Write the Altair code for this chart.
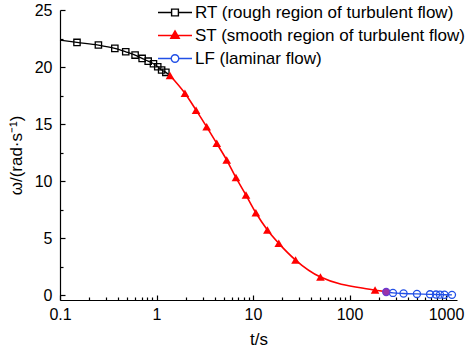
import altair as alt
import pandas as pd

# ---------------- data ----------------
names = ["RT (rough region of turbulent flow)",
         "ST (smooth region of turbulent flow)",
         "LF (laminar flow)"]

rt_start_t, rt_start_w = 0.1, 22.36
rt_t = [0.15, 0.25, 0.37, 0.48, 0.6, 0.71, 0.82, 0.93, 1.03, 1.13, 1.25]
rt_w = [22.16, 21.93, 21.64, 21.34, 21.05, 20.76, 20.52, 20.29, 20.03, 19.74, 19.54]

st_t = [1.38, 1.97, 2.57, 3.31, 4.21, 5.34, 6.66, 8.46, 10.7, 14.1, 18.5, 27.6, 50.0, 184]
st_w = [19.26, 17.70, 16.23, 14.77, 13.32, 11.86, 10.32, 8.79, 7.24, 5.73, 4.56, 3.10, 1.61, 0.47]

lf_t = [240, 282, 363, 500, 683, 788, 866, 964, 1153]
lf_w = [0.30, 0.22, 0.17, 0.13, 0.10, 0.08, 0.07, 0.06, 0.05]

x_major = [0.1, 1, 10, 100, 1000]
x_minor = [0.2, 0.3, 0.4, 0.5, 0.6, 0.7, 0.8, 0.9,
           2, 3, 4, 5, 6, 7, 8, 9,
           20, 30, 40, 50, 60, 70, 80, 90,
           200, 300, 400, 500, 600, 700, 800, 900]
y_major = [0, 5, 10, 15, 20, 25]
y_minor = [2.5, 7.5, 12.5, 17.5, 22.5]

# ---------------- tables ----------------
rt_line_df = pd.DataFrame({"t": [rt_start_t] + rt_t + [st_t[0]],
                           "w": [rt_start_w] + rt_w + [st_w[0]]})
st_line_df = pd.DataFrame({"t": st_t + [lf_t[0]], "w": st_w + [lf_w[0]]})
lf_line_df = pd.DataFrame({"t": lf_t, "w": lf_w})
rt_df = pd.DataFrame({"t": rt_t, "w": rt_w})
st_df = pd.DataFrame({"t": st_t, "w": st_w})
lf_df = pd.DataFrame({"t": lf_t[1:], "w": lf_w[1:]})
join_df = pd.DataFrame({"t": lf_t[:1], "w": lf_w[:1]})
legend_df = pd.DataFrame({"series": names})

FONT = "Liberation Sans"
W, H = 397, 290
BLACK, RED, BLUE, PURPLE = "#000000", "#ff0000", "#2250e6", "#9a32a8"

xs = alt.Scale(type="log", domain=[0.1, 1300], nice=False)
ys = alt.Scale(domain=[-0.4, 25], nice=False, zero=False)

common = dict(grid=False, labelFont=FONT, labelFontSize=16, labelColor="black",
              labelFlush=False,
              titleFont=FONT, titleFontSize=17, titleFontWeight="normal",
              titleColor="black", tickColor="black", tickWidth=1.2,
              domainColor="black", domainWidth=1.2)

x_main = alt.Axis(orient="bottom", values=x_major, format="~g", tickSize=0,
                  labelPadding=6, title="t/s", titlePadding=9, **common)
x_maj = alt.Axis(orient="top", offset=-H, values=x_major, tickSize=5, labels=False,
                 domain=False, title=None, **common)
x_min = alt.Axis(orient="top", offset=-H, values=x_minor, tickSize=3, labels=False,
                 domain=False, title=None, **common)

y_main = alt.Axis(orient="left", values=y_major, tickSize=0, labelPadding=8,
                  title="ω/(rad·s⁻¹)", titlePadding=9, **common)
y_maj = alt.Axis(orient="right", offset=-W, values=y_major, tickSize=5, labels=False,
                 domain=False, title=None, **common)
y_min = alt.Axis(orient="right", offset=-W, values=y_minor, tickSize=3, labels=False,
                 domain=False, title=None, **common)


def enc(ch, xa=None, ya=None):
    return ch.encode(x=alt.X("t:Q", scale=xs, axis=xa),
                     y=alt.Y("w:Q", scale=ys, axis=ya))


rt_line = enc(alt.Chart(rt_line_df).mark_line(color=BLACK, strokeWidth=1.3,
                                               interpolate="monotone"), x_main, y_main)
st_line = enc(alt.Chart(st_line_df).mark_line(color=RED, strokeWidth=1.6,
                                               interpolate="monotone"), x_maj, y_maj)
lf_line = enc(alt.Chart(lf_line_df).mark_line(color=BLUE, strokeWidth=1.3,
                                               interpolate="monotone"), x_min, y_min)

rt_pts = enc(alt.Chart(rt_df).mark_point(shape="square", size=40, filled=False,
                                          color=BLACK, strokeWidth=1.3, opacity=1))
st_pts = enc(alt.Chart(st_df).mark_point(shape="triangle-up", size=75, filled=True,
                                          color=RED, opacity=1))
lf_pts = enc(alt.Chart(lf_df).mark_point(shape="circle", size=50, filled=False,
                                          color=BLUE, strokeWidth=1.3, opacity=1))
join_pt = enc(alt.Chart(join_df).mark_point(shape="circle", size=50, fill=PURPLE,
                                             stroke="#6a3ad0", strokeWidth=1.2, opacity=1))

paths = [
    "M-1,0H-0.2M0.2,0H1M-0.2,-0.2H0.2V0.2H-0.2Z",
    "M-1,0H1M0,-0.27L0.25,0.17H-0.25Z",
    "M-1,0H-0.22M0.22,0H1M0.22,0A0.22,0.22 0 1 1 -0.22,0A0.22,0.22 0 1 1 0.22,0Z",
]
leg = alt.Legend(orient="none", legendX=97, legendY=-9, direction="vertical", title=None,
                 labelFont=FONT, labelFontSize=17, labelColor="black", labelLimit=400,
                 labelOffset=2, symbolSize=1156, symbolStrokeWidth=1.4,
                 symbolOpacity=1, clipHeight=23, rowPadding=0, padding=0)
legend_layer = alt.Chart(legend_df).transform_filter("false").mark_point(
    size=1156, strokeWidth=1.4, opacity=1).encode(
    shape=alt.Shape("series:N", scale=alt.Scale(domain=names, range=paths), legend=leg),
    stroke=alt.Stroke("series:N", scale=alt.Scale(domain=names, range=[BLACK, RED, BLUE]), legend=leg),
    fill=alt.Fill("series:N", scale=alt.Scale(domain=names, range=["white", RED, "white"]), legend=leg),
)

chart = alt.layer(rt_line, st_line, lf_line, rt_pts, st_pts, lf_pts, join_pt, legend_layer).resolve_axis(
    x="independent", y="independent"
).properties(
    width=W, height=H,
    autosize=alt.AutoSizeParams(type="none"),
    padding={"left": 60, "top": 10, "right": 17, "bottom": 53},
    background="white",
).configure_view(stroke=None)

chart.save("out.html", embed_options={"renderer": "svg", "actions": False})
